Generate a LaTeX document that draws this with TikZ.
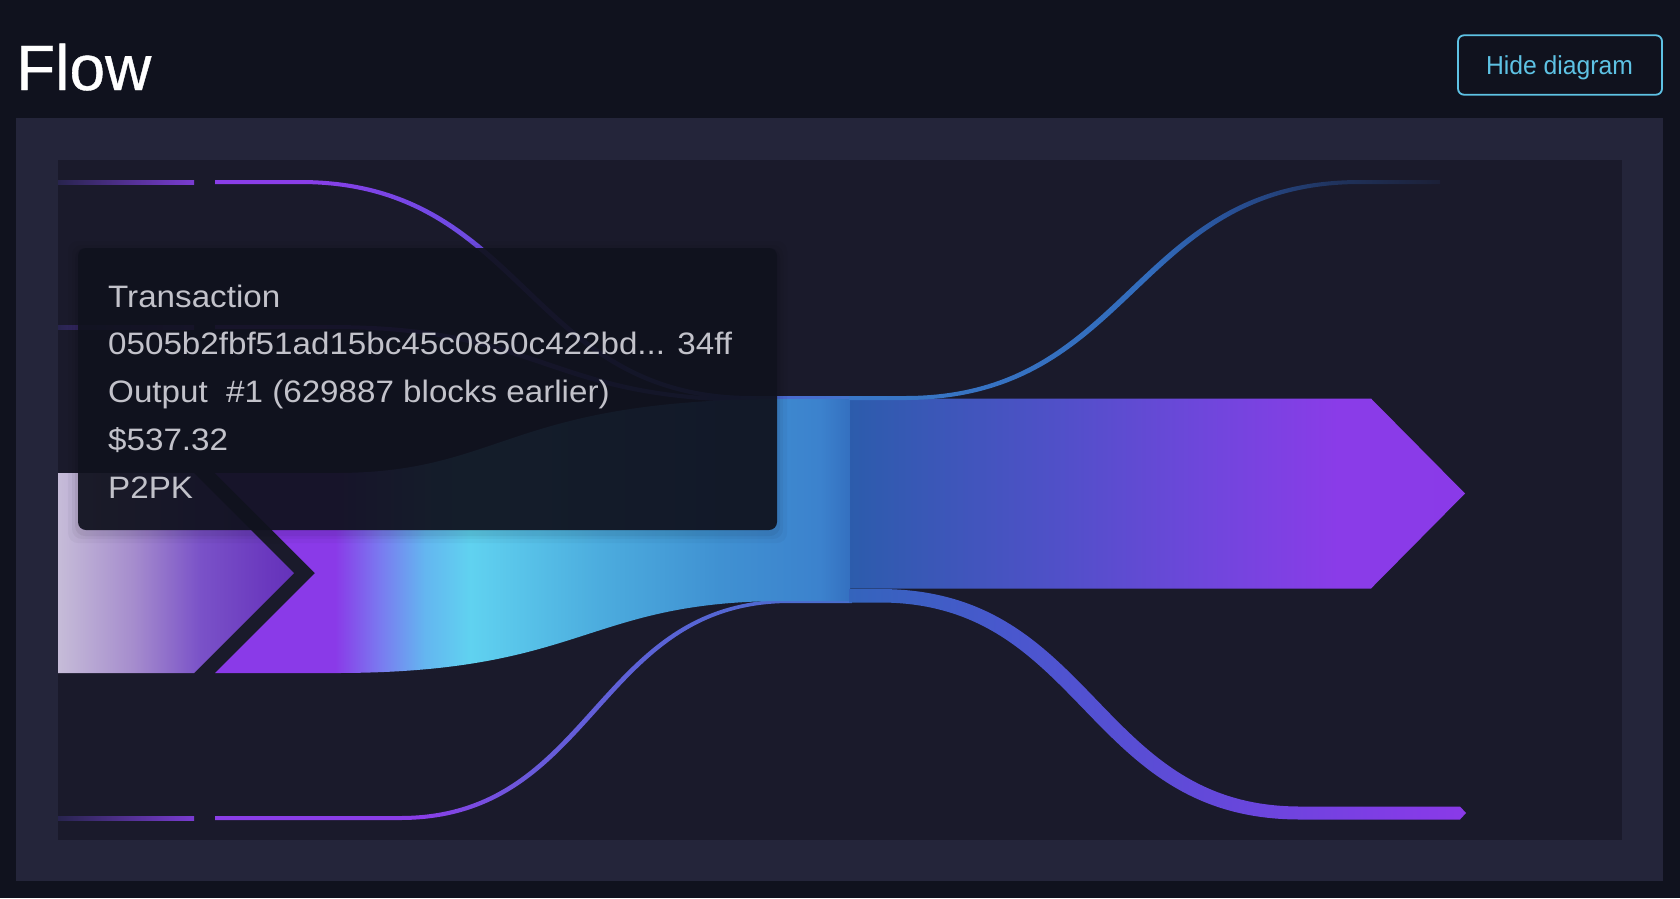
\documentclass[tikz,border=0pt]{standalone}
\usepackage{fontspec}
\setmainfont{Liberation Sans}
\newfontfamily\titlefont[FakeBold=0.6]{Liberation Sans}
\newfontfamily\tipfont[FakeStretch=1.07]{Liberation Sans}
\newfontfamily\btnfont[FakeStretch=0.95]{Liberation Sans}

\definecolor{pagebg}{RGB}{16,18,30}
\definecolor{panelbg}{RGB}{36,37,58}
\definecolor{innerbg}{RGB}{26,26,43}
\definecolor{tipbg}{RGB}{16,18,30}
\definecolor{tiptext}{RGB}{194,194,202}
\definecolor{btncol}{RGB}{94,194,228}
\definecolor{purp}{RGB}{138,58,232}
% left block
\definecolor{lbA}{RGB}{198,188,216}
\definecolor{lbB}{RGB}{165,140,205}
\definecolor{lbC}{RGB}{122,82,200}
\definecolor{lbD}{RGB}{106,56,190}
\definecolor{lbE}{RGB}{100,50,185}
% main band
\definecolor{bdB}{RGB}{122,122,240}
\definecolor{bdC}{RGB}{100,182,240}
\definecolor{bdD}{RGB}{96,210,240}
\definecolor{bdE}{RGB}{76,172,222}
\definecolor{bdF}{RGB}{64,145,210}
\definecolor{bdG}{RGB}{60,130,205}
\definecolor{bdH}{RGB}{52,112,192}
% output box
\definecolor{obA}{RGB}{44,92,172}
\definecolor{obB}{RGB}{80,80,200}
\definecolor{obC}{RGB}{112,70,220}
\definecolor{obD}{RGB}{138,60,232}
% bottom output band
\definecolor{boA}{RGB}{52,100,188}
\definecolor{boB}{RGB}{72,88,205}
\definecolor{boC}{RGB}{84,80,210}
\definecolor{boD}{RGB}{105,70,220}
\definecolor{boE}{RGB}{130,60,230}
% top output line
\definecolor{toA}{RGB}{58,120,200}
\definecolor{toB}{RGB}{50,108,188}
\definecolor{toC}{RGB}{40,80,150}
\definecolor{toD}{RGB}{32,52,95}
\definecolor{toE}{RGB}{28,32,55}
% input lines
\definecolor{liA}{RGB}{138,62,232}
\definecolor{tiB}{RGB}{115,72,228}
\definecolor{tiC}{RGB}{95,85,220}
\definecolor{tiD}{RGB}{66,116,204}
\definecolor{biB}{RGB}{105,90,218}
\definecolor{biC}{RGB}{92,98,215}
\definecolor{biD}{RGB}{72,110,205}
\definecolor{fsA}{RGB}{40,36,78}
\definecolor{fsB}{RGB}{122,60,210}

\pgfdeclarehorizontalshading{leftblockshade}{100bp}{color(0bp)=(lbA); color(25bp)=(lbA); color(41.1bp)=(lbB); color(55.08bp)=(lbC); color(69.49bp)=(lbD); color(75bp)=(lbE); color(100bp)=(lbE)}
\pgfdeclarehorizontalshading{bandshade}{100bp}{color(0bp)=(purp); color(25bp)=(purp); color(34.45bp)=(purp); color(37.99bp)=(bdB); color(41.54bp)=(bdC); color(45.08bp)=(bdD); color(55.31bp)=(bdE); color(64.76bp)=(bdF); color(72.64bp)=(bdG); color(75bp)=(bdH); color(100bp)=(bdH)}
\pgfdeclarehorizontalshading{outshade}{100bp}{color(0bp)=(obA); color(25bp)=(obA); color(41.83bp)=(obB); color(54.27bp)=(obC); color(64.67bp)=(obD); color(75bp)=(purp); color(100bp)=(purp)}
\pgfdeclarehorizontalshading{botoutshade}{100bp}{color(0bp)=(boA); color(25bp)=(boA); color(37.18bp)=(boB); color(45.29bp)=(boC); color(57.47bp)=(boD); color(69.64bp)=(boE); color(75bp)=(purp); color(100bp)=(purp)}
\pgfdeclarehorizontalshading{topoutshade}{100bp}{color(0bp)=(toA); color(25bp)=(toA); color(50.42bp)=(toB); color(57.2bp)=(toC); color(65.68bp)=(toD); color(75bp)=(toE); color(100bp)=(toE)}
\pgfdeclarehorizontalshading{topinshade}{100bp}{color(0bp)=(liA); color(25bp)=(liA); color(31.91bp)=(liA); color(41.67bp)=(tiB); color(56.3bp)=(tiC); color(75bp)=(tiD); color(100bp)=(tiD)}
\pgfdeclarehorizontalshading{botinshade}{100bp}{color(0bp)=(liA); color(25bp)=(liA); color(41.09bp)=(liA); color(49.78bp)=(biB); color(58.48bp)=(biC); color(75bp)=(biD); color(100bp)=(biD)}
\pgfdeclarehorizontalshading{firstsegshade}{100bp}{color(0bp)=(fsA); color(25bp)=(fsA); color(75bp)=(fsB); color(100bp)=(fsB)}

\begin{document}
\begin{tikzpicture}[x=1pt,y=-1pt,
  titletxt/.style={anchor=base west, inner sep=0pt, text=white, font=\titlefont\fontsize{64}{70}\selectfont},
  btnbox/.style={draw=btncol, line width=1.8pt, rounded corners=6pt, fill=pagebg, minimum width=204pt, minimum height=59.4pt, inner sep=0pt},
  btntxt/.style={anchor=base, inner sep=0pt, text=btncol, font=\btnfont\fontsize{26}{32}\selectfont},
  tiptxt/.style={anchor=base west, inner sep=0pt, text=tiptext, font=\tipfont\fontsize{31}{37}\selectfont}]
\useasboundingbox (0,0) rectangle (1680,898);
% backgrounds
\fill[pagebg] (0,0) rectangle (1680,898);
\fill[panelbg] (16,118) rectangle (1663,881);
\fill[innerbg] (58,160) rectangle (1622,840);

% header
\node[titletxt] (title) at (16,90) {Flow};
\node[btnbox] (hidebtn) at (1560,65) {};
\node[btntxt] (hidelabel) at (1559.5,74) {Hide diagram};

% input lines: first segments
\shade[shading=firstsegshade] (58,180) rectangle (194,184);
\shade[shading=firstsegshade] (58,325) rectangle (194,329);
\shade[shading=firstsegshade] (58,816) rectangle (194,820);

% hidden input line (y = 327)
\shade[shading=topinshade] (215,325) -- (330,325) .. controls (547,325) and (547,398) .. (760,398) -- (850,398) -- (850,402) -- (760,402) .. controls (543,402) and (543,329) .. (330,329) -- (215,329) -- cycle;
% top input line
\shade[shading=topinshade] (215,180) -- (300,180) .. controls (528,180) and (528,396) .. (752,396) -- (852,396) -- (852,400) -- (752,400) .. controls (524,400) and (524,184) .. (300,184) -- (215,184) -- cycle;
% bottom input line
\shade[shading=botinshade] (215,816) -- (400,816) .. controls (593,816) and (593,599.5) .. (790,599.5) -- (852,599.5) -- (852,603) -- (790,603) .. controls (597,603) and (597,820) .. (400,820) -- (215,820) -- cycle;

% previous output block (left)
\shade[shading=leftblockshade] (58,473) -- (194,473) -- (294,573) -- (194,673) -- (58,673) -- cycle;
% main band
\shade[shading=bandshade] (215,473) -- (335,473) .. controls (505,473) and (505,399) .. (785,399) -- (850,399) -- (850,601) -- (785,601) .. controls (585,601) and (585,673) .. (335,673) -- (215,673) -- (315,573) -- cycle;

% big output
\shade[shading=outshade] (850,398.5) -- (1371,398.5) -- (1465,493.5) -- (1371,588.5) -- (850,588.5) -- cycle;
% bottom output band
\shade[shading=botoutshade] (849,589) -- (880,589) .. controls (1096,589) and (1096,806.5) .. (1300,806.5) -- (1460,806.5) -- (1466,813) -- (1460,819.5) -- (1300,819.5) .. controls (1084,819.5) and (1084,602.5) .. (880,602.5) -- (849,602.5) -- cycle;
% top output line
\shade[shading=topoutshade] (849,396) -- (905,396) .. controls (1130,396) and (1130,180) .. (1360,180) -- (1440,180) -- (1440,184) -- (1360,184) .. controls (1135,184) and (1135,400) .. (905,400) -- (849,400) -- cycle;

% tooltip
\foreach \s/\o in {10/0.03,6/0.04,3/0.05}{
  \fill[black, opacity=\o, rounded corners=10pt] (78-\s,248-\s+3) rectangle (777+\s,530+\s+3);
}
\fill[tipbg, fill opacity=0.93, rounded corners=8pt] (78,248) rectangle (777,530);
\node[tiptxt] (tipa) at (108,307) {Transaction};
\node[tiptxt] (tipb) at (108,354) {0505b2fbf51ad15bc45c0850c422bd... 34ff};
\node[tiptxt] (tipc) at (108,402) {Output\ \ \#1 (629887 blocks earlier)};
\node[tiptxt] (tipd) at (108,450) {\$537.32};
\node[tiptxt] (tipe) at (108,498) {P2PK};
\end{tikzpicture}
\end{document}
